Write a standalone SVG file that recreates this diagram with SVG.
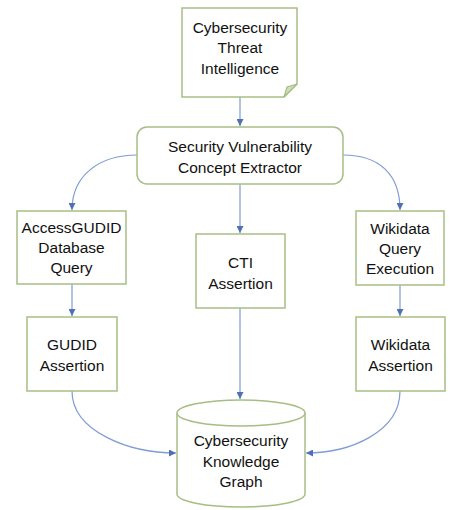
<svg xmlns="http://www.w3.org/2000/svg" width="474" height="510" viewBox="0 0 474 510">
<defs>
<style>
.box{fill:#ffffff;stroke:#a6be84;stroke-width:1.5}
.fold{fill:#cfdcbc;stroke:#a6be84;stroke-width:1.2}
.t{font-family:"Liberation Sans",Arial,sans-serif;font-size:15.5px;fill:#111;text-anchor:middle}
.c{fill:none;stroke:#7f9cd6;stroke-width:1.2}
</style>
<marker id="ah" viewBox="0 0 10 10" refX="10" refY="5" markerWidth="7" markerHeight="7" markerUnits="userSpaceOnUse" orient="auto">
<path d="M0,0 L10,5 L0,10 Z" fill="#4f70b8"/>
</marker>
</defs>
<rect width="474" height="510" fill="#ffffff"/>
<g id="connectors">
<path class="c" d="M240,97 V126" marker-end="url(#ah)"/>
<path class="c" d="M137,155 C100,155 72,175 72,210" marker-end="url(#ah)"/>
<path class="c" d="M343,155 C380,155 400,175 400,210" marker-end="url(#ah)"/>
<path class="c" d="M240,184 V233" marker-end="url(#ah)"/>
<path class="c" d="M72,284 V316" marker-end="url(#ah)"/>
<path class="c" d="M400,285 V316" marker-end="url(#ah)"/>
<path class="c" d="M240,308 V399" marker-end="url(#ah)"/>
<path class="c" d="M72,391 C72,432 130,453 176,453" marker-end="url(#ah)"/>
<path class="c" d="M400,391 C400,432 350,453 306,453" marker-end="url(#ah)"/>
</g>
<g id="cti-source">
<path class="box" d="M182,8 H297 V84 L284,97 H182 Z"/>
<path class="fold" d="M284,97 L287,87 L297,84 Z"/>
<text class="t" x="240" y="33">Cybersecurity</text>
<text class="t" x="240" y="53">Threat</text>
<text class="t" x="240" y="74">Intelligence</text>
</g>
<g id="extractor">
<rect class="box" x="137" y="127" width="206" height="57" rx="10"/>
<text class="t" x="240" y="152">Security Vulnerability</text>
<text class="t" x="240" y="173">Concept Extractor</text>
</g>
<g id="accessgudid">
<rect class="box" x="17" y="211" width="109" height="73"/>
<text class="t" x="71.5" y="233">AccessGUDID</text>
<text class="t" x="71.5" y="253">Database</text>
<text class="t" x="71.5" y="273">Query</text>
</g>
<g id="cti-assertion">
<rect class="box" x="196" y="234" width="89" height="74"/>
<text class="t" x="240.5" y="268">CTI</text>
<text class="t" x="240.5" y="289">Assertion</text>
</g>
<g id="wikidata-query">
<rect class="box" x="356" y="211" width="88" height="74"/>
<text class="t" x="400" y="234">Wikidata</text>
<text class="t" x="400" y="254">Query</text>
<text class="t" x="400" y="274">Execution</text>
</g>
<g id="gudid-assertion">
<rect class="box" x="27" y="317" width="90" height="74"/>
<text class="t" x="72" y="350">GUDID</text>
<text class="t" x="72" y="371">Assertion</text>
</g>
<g id="wikidata-assertion">
<rect class="box" x="356" y="317" width="89" height="74"/>
<text class="t" x="400.5" y="350">Wikidata</text>
<text class="t" x="400.5" y="371">Assertion</text>
</g>
<g id="knowledge-graph">
<path class="box" d="M177,413 V494 A64,13 0 0 0 305,494 V413"/>
<ellipse class="box" cx="241" cy="413" rx="64" ry="13"/>
<text class="t" x="241" y="446">Cybersecurity</text>
<text class="t" x="241" y="467">Knowledge</text>
<text class="t" x="241" y="487">Graph</text>
</g>
</svg>
